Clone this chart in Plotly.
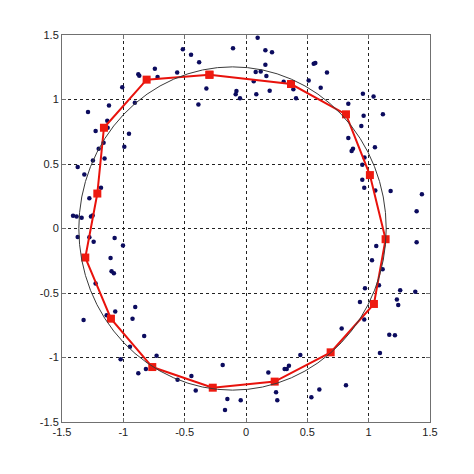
import plotly.graph_objects as go

# Noisy sample points
pts_x = [-0.515, -0.743, -0.878, -0.870, -0.721, -0.561, -1.009, -0.906, -1.117, -1.288, -1.131, -1.128, -1.226, -0.954, -1.161, -0.992, -1.201, -1.153, -1.248,
         -0.448, -0.382, -0.106, 0.095, 0.158, 0.212, 0.158, 0.079, 0.120, 0.166, 0.063, 0.084, 0.193, 0.307, 0.386, 0.408, -0.323, -0.388, -0.078, -0.084, -0.049,
         0.511, 0.552, 0.565, 0.660, 0.609, 0.953, 1.040, 0.834, 1.116, 0.959, 0.940, 0.834, 0.872, 0.861, 1.051, 0.966,
         -1.372, -1.318, -1.182, -1.277, -1.410, -1.381, -1.340, -1.264, -1.250, -1.372, -1.277, -1.242, -1.071, -1.003, -1.104, -1.096, -1.077, -1.226,
         0.948, 0.948, 0.964, 1.054, 1.179, 1.434, 1.391, 1.391, 1.062, 1.027, 1.114, 1.084, 0.970, 1.257, 1.380,
         -1.324, -1.136, -1.066, -0.903, -0.925, -0.830, -0.946, -1.022, -0.729, -0.816, -0.878, -0.558,
         -0.445, -0.410, -0.190, -0.152, -0.171, -0.043, 0.182, 0.245, 0.255, 0.315, 0.332, 0.350, 0.443,
         0.929, 1.230, 1.241, 0.964, 0.780, 1.168, 1.214, 1.092, 0.815, 0.598, 0.533]
pts_y = [1.389, 1.239, 1.195, 1.185, 1.174, 1.210, 1.094, 0.975, 0.954, 0.903, 0.835, 0.781, 0.755, 0.735, 0.665, 0.634, 0.618, 0.543, 0.528,
         1.347, 1.288, 1.397, 1.479, 1.381, 1.366, 1.270, 1.213, 1.218, 1.182, 1.141, 1.040, 1.068, 1.138, 1.079, 1.009, 1.086, 0.962, 1.066, 1.040, 1.009,
         1.148, 1.278, 1.283, 1.210, 1.091, 1.045, 1.024, 0.967, 0.885, 0.874, 0.794, 0.701, 0.618, 0.600, 0.629, 0.550,
         0.476, 0.419, 0.315, 0.235, 0.098, 0.093, 0.083, 0.093, 0.101, -0.065, -0.067, -0.103, -0.073, -0.132, -0.228, -0.331, -0.347, -0.427,
         0.494, 0.377, 0.315, 0.295, 0.290, 0.266, 0.134, -0.106, -0.135, -0.246, -0.316, -0.440, -0.463, -0.479, -0.491,
         -0.709, -0.673, -0.644, -0.608, -0.699, -0.833, -0.916, -1.014, -0.986, -1.089, -1.123, -1.172,
         -1.143, -1.255, -1.058, -1.322, -1.407, -1.332, -1.117, -1.270, -1.332, -1.089, -1.089, -1.063, -0.980,
         -0.569, -0.551, -0.593, -0.706, -0.776, -0.823, -0.828, -0.965, -1.216, -1.249, -1.309]

# Red polygon vertices (closed loop)
poly_x = [-0.298, 0.367, 0.815, 1.010, 1.138, 1.043, 0.690, 0.234, -0.271, -0.764, -1.101, -1.310, -1.212, -1.158, -0.810, -0.298]
poly_y = [1.192, 1.120, 0.885, 0.414, -0.083, -0.585, -0.960, -1.187, -1.234, -1.074, -0.699, -0.225, 0.271, 0.781, 1.154, 1.192]

# Fitted circle
circle_cx = -0.11
circle_cy = 0.0
circle_r = 1.253

tick_vals = [-1.5, -1, -0.5, 0, 0.5, 1, 1.5]
tick_text = ["-1.5", "-1", "-0.5", "0", "0.5", "1", "1.5"]

fig = go.Figure()
fig.add_shape(type="circle", xref="x", yref="y",
              x0=circle_cx - circle_r, x1=circle_cx + circle_r,
              y0=circle_cy - circle_r, y1=circle_cy + circle_r,
              line=dict(color="#3a3a3a", width=1), layer="above")
fig.add_trace(go.Scatter(x=pts_x, y=pts_y, mode="markers",
                         marker=dict(color="#0b0b5e", size=4.5), showlegend=False))
fig.add_trace(go.Scatter(x=poly_x, y=poly_y, mode="lines+markers",
                         line=dict(color="#e8120c", width=2),
                         marker=dict(symbol="square", size=8, color="#ee1a10"),
                         showlegend=False))

axis_common = dict(range=[-1.5, 1.5], tickvals=tick_vals, ticktext=tick_text,
                   showgrid=True, gridcolor="#222222", griddash="dot", gridwidth=1,
                   zeroline=False, showline=True, linecolor="#707070", linewidth=1,
                   mirror="ticks", ticks="inside", ticklen=4, tickcolor="#707070",
                   tickfont=dict(family="Arial, Liberation Sans, sans-serif", size=11, color="#222222"))
fig.update_xaxes(**axis_common)
fig.update_yaxes(**axis_common)
fig.update_layout(width=474, height=474, plot_bgcolor="white", paper_bgcolor="white",
                  margin=dict(l=62, r=44, t=35, b=52))
fig.write_html("out.html", config={"displayModeBar": False},
               post_script="document.body.style.margin='0';document.body.style.padding='0';")
